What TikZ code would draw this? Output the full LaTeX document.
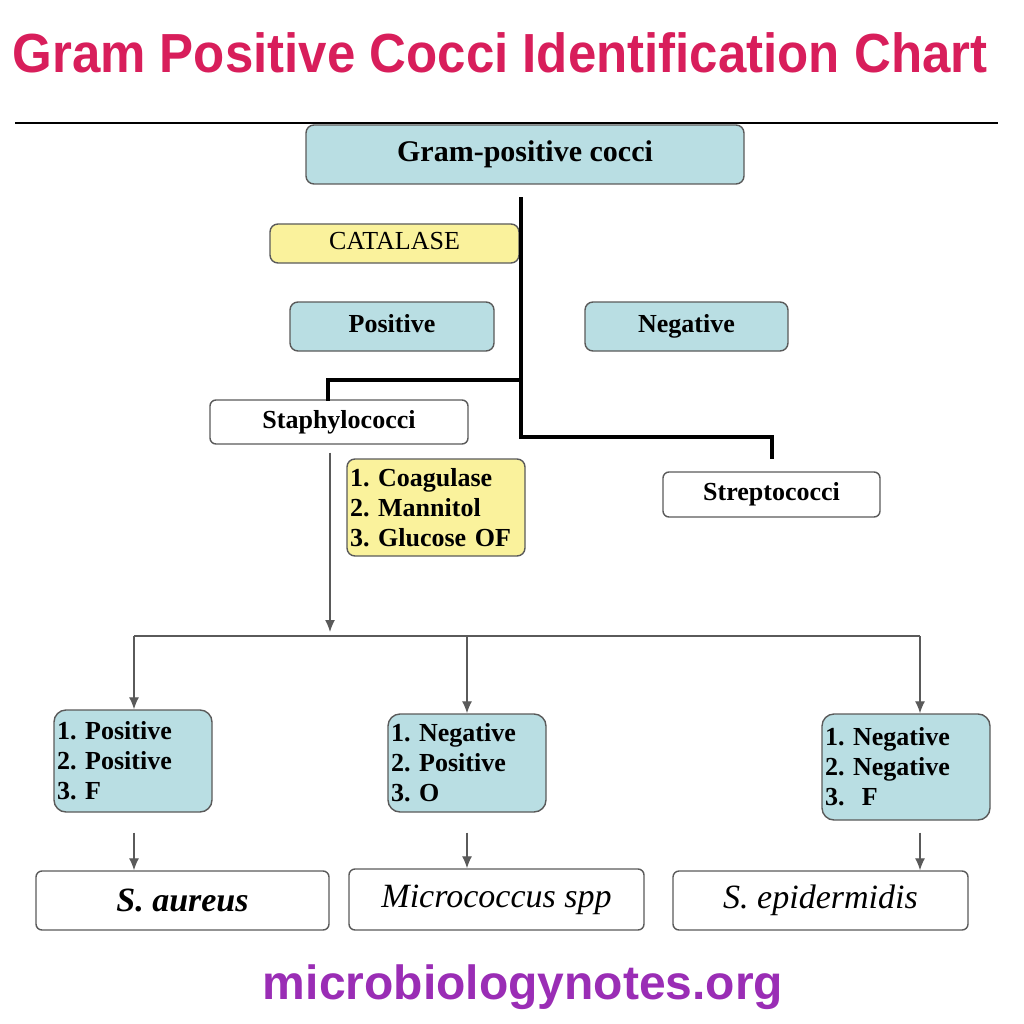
\documentclass[tikz,border=0pt]{standalone}
\usepackage{fontspec}
\setmainfont{Liberation Serif}
\newfontfamily\headfont{Liberation Sans}
\usetikzlibrary{arrows.meta}
\frenchspacing
\definecolor{boxblue}{HTML}{B9DEE3}
\definecolor{boxyellow}{HTML}{FAF29C}
\definecolor{headred}{HTML}{D81E5B}
\definecolor{footpurple}{HTML}{9A2DB5}
\definecolor{edgegray}{HTML}{5A5A5A}
\tikzset{
  box/.style={draw=edgegray, line width=1.4pt, rounded corners=8pt, inner sep=3pt,
    align=center, font=\fontsize{26}{30}\selectfont\bfseries},
  oneline/.style={text height=18pt, text depth=6pt},
  bluebox/.style={box, fill=boxblue},
  yellowbox/.style={box, fill=boxyellow},
  whitebox/.style={box, fill=white, rounded corners=6pt},
  listbox/.style={align=left, text width=#1, inner sep=3pt},
  trunk/.style={line width=4pt, line cap=rect},
  feed/.style={draw=edgegray, line width=1.3pt},
  feedarrow/.style={feed, -{Latex[length=12pt,width=10pt]}}
}

\begin{document}
\begin{tikzpicture}[x=1pt,y=-1pt]
    \useasboundingbox (0,0) rectangle (1024,1024);
    % heading and rule
    \node[anchor=base, text=headred, font=\headfont\bfseries\fontsize{51}{60}\selectfont] (title) at (500,73) {\scalebox{1}[1.08]{Gram Positive Cocci Identification Chart}};
    \draw[line width=2pt] (15,123) -- (998,123);
    % catalase level
    \node[bluebox, minimum width=438pt, minimum height=59pt, font=\fontsize{30}{34}\selectfont\bfseries, text height=27pt, text depth=12pt] (gpc) at (525,154.5) {Gram-positive cocci};
    \node[yellowbox, oneline, minimum width=249pt, minimum height=39pt, font=\fontsize{26}{30}\selectfont] (cat) at (394.5,243.5) {CATALASE};
    \node[bluebox, oneline, minimum width=204pt, minimum height=49pt] (pos) at (392,326.5) {Positive};
    \node[bluebox, oneline, minimum width=203pt, minimum height=49pt] (neg) at (686.5,326.5) {Negative};
    \node[whitebox, oneline, minimum width=258pt, minimum height=44pt] (staph) at (339,422) {Staphylococci};
    \node[whitebox, oneline, minimum width=217pt, minimum height=45pt] (strep) at (771.5,494.5) {Streptococci};
    \coordinate (split) at (521,380);
    \coordinate (turn) at (521,437);
    \draw[trunk] ([yshift=-14pt]gpc.south -| split) -- (turn) -- (turn -| strep) -- ([yshift=14pt]strep.north);
    \draw[trunk] (split) -- (split -| 328,0) -- (staph.north -| 328,0);
    % tests
    \node[yellowbox, listbox=172pt, minimum height=97pt] (tests) at (436,507.5) {1. Coagulase\\2. Mannitol\\3. Glucose OF};
    \coordinate (hub) at (330,636);
    \coordinate (bus1) at (134,636);
    \coordinate (bus2) at (467,636);
    \coordinate (bus3) at (920,636);
    \draw[feedarrow] ([yshift=-8pt]staph.south -| hub) -- ([yshift=4pt]hub);
    \draw[feed] (bus1) -- (bus3);
    % results
    \node[bluebox, listbox=152pt, minimum height=102pt, rounded corners=12pt] (r1) at (133,761) {1. Positive\\2. Positive\\3. F};
    \node[bluebox, listbox=152pt, minimum height=98pt, rounded corners=12pt] (r2) at (467,763) {1. Negative\\2. Positive\\3. O};
    \node[bluebox, listbox=162pt, minimum height=106pt, rounded corners=12pt] (r3) at (906,767) {1. Negative\\2. Negative\\3.\ \ F};
    \draw[feedarrow] (bus1) -- (r1.north -| bus1);
    \draw[feedarrow] (bus2) -- (r2.north);
    \draw[feedarrow] (bus3) -- (r3.north -| bus3);
    % species
    \node[whitebox, minimum width=293pt, minimum height=59pt, font=\fontsize{34}{38}\selectfont\bfseries\itshape] (sa) at (182.5,900.5) {S. aureus};
    \node[whitebox, minimum width=295pt, minimum height=61pt, font=\fontsize{34}{38}\selectfont\itshape] (mc) at (496.5,899.5) {Micrococcus spp};
    \node[whitebox, minimum width=295pt, minimum height=59pt, font=\fontsize{34}{38}\selectfont\itshape] (se) at (820.5,900.5) {S. epidermidis};
    \draw[feedarrow] ([yshift=-20pt]r1.south -| bus1) -- (sa.north -| bus1);
    \draw[feedarrow] ([yshift=-20pt]r2.south) -- (mc.north -| bus2);
    \draw[feedarrow] ([yshift=-12pt]r3.south -| bus3) -- (se.north -| bus3);
    % footer
    \node[anchor=base, text=footpurple, font=\headfont\bfseries\fontsize{48}{56}\selectfont] (site) at (523,999) {microbiologynotes.org};
\end{tikzpicture}
\end{document}
